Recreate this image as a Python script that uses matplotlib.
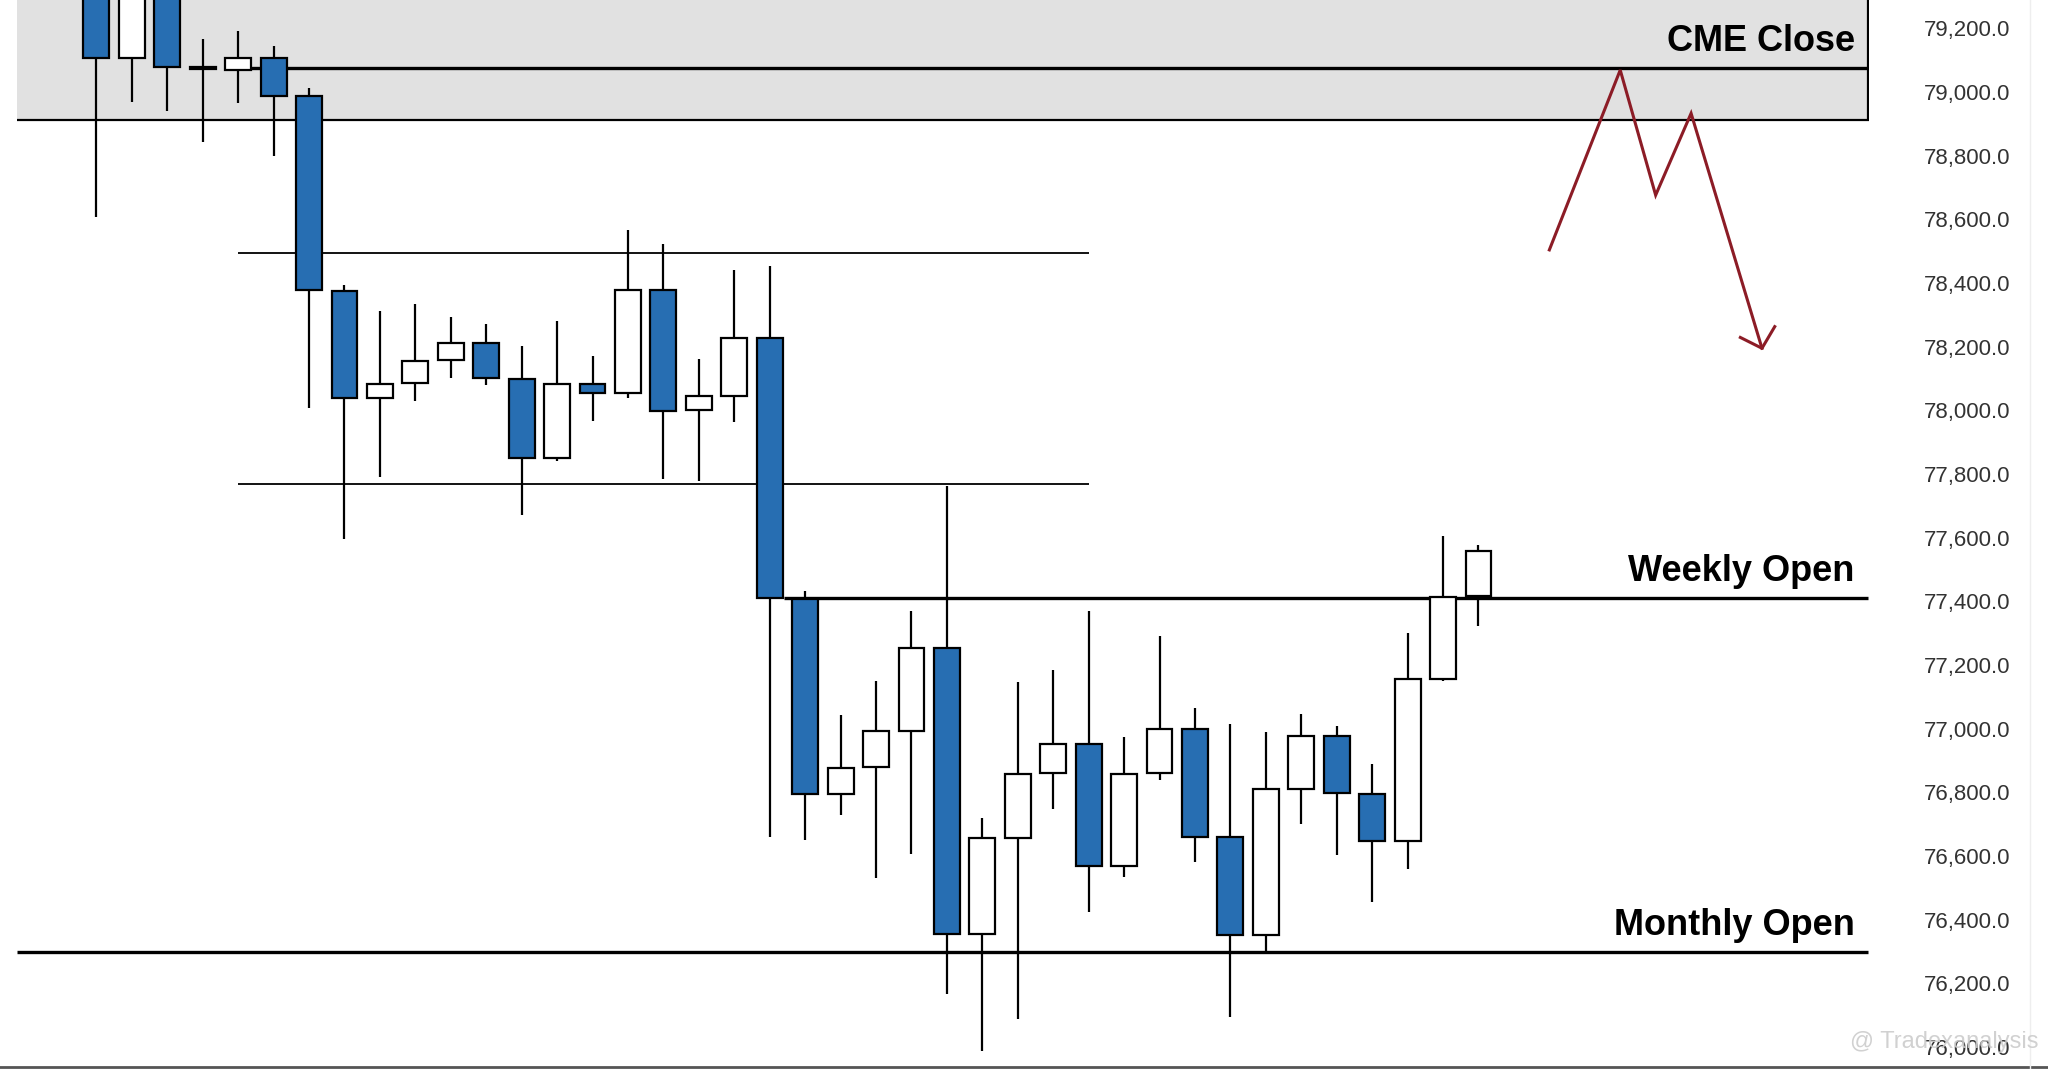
import numpy as np
import matplotlib.pyplot as plt
from matplotlib.patches import Rectangle
from matplotlib.lines import Line2D
from matplotlib.ticker import FuncFormatter

plt.rcParams['font.family'] = ['Liberation Sans', 'DejaVu Sans']

# candle data, oldest first
opens = [79450, 79106, 79450, 79072, 79069, 79107, 78986, 78374, 78038, 78085,
         78158, 78212, 78100, 77850, 78083, 78053, 78377, 78001, 78045, 78228,
         77406, 76796, 76880, 76992, 77252, 76354, 76658, 76860, 76951, 76570,
         76861, 77000, 76661, 76352, 76812, 76976, 76795, 76647, 77157, 77416]
closes = [79106, 79450, 79078, 79072, 79107, 78988, 78378, 78038, 78083, 78156,
          78212, 78102, 77850, 78083, 78053, 78378, 77999, 78044, 78228, 77411,
          76796, 76876, 76992, 77252, 76354, 76658, 76858, 76951, 76570, 76858,
          77000, 76661, 76352, 76810, 76976, 76797, 76647, 77156, 77415, 77558]
highs = [79500, 79500, 79500, 79166, 79191, 79143, 79012, 78395, 78313, 78333,
         78294, 78270, 78203, 78281, 78171, 78568, 78524, 78161, 78440, 78452,
         77433, 77044, 77151, 77370, 77761, 76721, 77147, 77185, 77370, 76975,
         77291, 77066, 77015, 76991, 77046, 77008, 76890, 77302, 77604, 77578]
lows = [78608, 78969, 78941, 78843, 78964, 78799, 78006, 77597, 77791, 78030,
        78103, 78081, 77670, 77842, 77968, 78038, 77785, 77777, 77962, 76661,
        76649, 76730, 76530, 76606, 76166, 75989, 76089, 76747, 76423, 76533,
        76838, 76581, 76094, 76294, 76700, 76604, 76456, 76558, 77149, 77323]

# levels
cme_close = 79074
cme_zone = (78912, 79500)
weekly_open = 77411
monthly_open = 76300
range_high = 78495
range_low = 77769

# hand-drawn projection (x in candle index)
proj_x = [41, 43, 44, 45, 47]
proj_y = [78504, 79069, 78676, 78933, 78195]
head_x = [46.39, 47, 47.36]
head_y = [78229, 78195, 78263]

yticks = list(range(76000, 79201, 200))

blue = '#276eb2'
red = '#8c1c26'
x_left, x_right = -2.24, 50.0

fig = plt.figure(figsize=(20.48, 10.69), dpi=100)
fig.patch.set_facecolor('white')
ax = fig.add_axes([17 / 2048, 0, (1869 - 17) / 2048, 1])
ax.set_xlim(x_left, x_right + 0.02)
ax.set_ylim(75931, 79289)

# CME zone box
ax.add_patch(Rectangle((x_left - 1, cme_zone[0]), x_right - x_left + 1, cme_zone[1] - cme_zone[0],
                       facecolor='#e1e1e1', edgecolor='black', linewidth=1.6, zorder=0))
ax.hlines(cme_close, 4, x_right, color='black', linewidth=2.4, zorder=1)
ax.hlines(weekly_open, 19.4, x_right, color='black', linewidth=2.4, zorder=1)
ax.hlines(monthly_open, x_left, x_right, color='black', linewidth=2.4, zorder=1)
ax.hlines([range_high, range_low], 4, 28, color='black', linewidth=1.3, zorder=1)

# candles
x = np.arange(len(opens))
o = np.array(opens)
c = np.array(closes)
ax.vlines(x, lows, highs, color='black', linewidth=1.6, zorder=2)
bottoms = np.minimum(o, c)
heights = np.maximum(np.abs(c - o), 6)
colors = [blue if cl < op else 'white' for op, cl in zip(opens, closes)]
ax.bar(x, heights, bottom=bottoms, width=0.73, color=colors, edgecolor='black',
       linewidth=1.6, zorder=3)

# projection arrow
ax.plot(proj_x, proj_y, color=red, linewidth=2.2, zorder=4, solid_joinstyle='miter')
ax.plot(head_x, head_y, color=red, linewidth=2.2, zorder=4)

# level labels
for label, level in [('CME Close', cme_close), ('Weekly Open', weekly_open),
                     ('Monthly Open', monthly_open)]:
    ax.annotate(label, xy=(49.62, level), xytext=(0, 17), textcoords='offset pixels',
                ha='right', va='baseline', fontsize=26, fontweight='bold', color='black',
                zorder=5)

# axis styling
for s in ax.spines.values():
    s.set_visible(False)
ax.set_xticks([])
ax.yaxis.tick_right()
ax.set_yticks(yticks)
ax.yaxis.set_major_formatter(FuncFormatter(lambda v, p: f"{v:,.1f}"))
ax.tick_params(axis='y', length=0, pad=39.6, labelsize=16, labelcolor='#333333')

# frame bits and watermark
fig.add_artist(Line2D([0, 1], [0.0015, 0.0015], color='#555555', linewidth=2))
fig.add_artist(Line2D([2030 / 2048, 2030 / 2048], [0, 1], color='#eeeeee', linewidth=1))
fig.text(2039 / 2048, 27 / 1069, '@ Tradexanalysis', ha='right', va='center',
         fontsize=17, color='#cccccc', alpha=0.9)

fig.savefig('out.png', dpi=100)
